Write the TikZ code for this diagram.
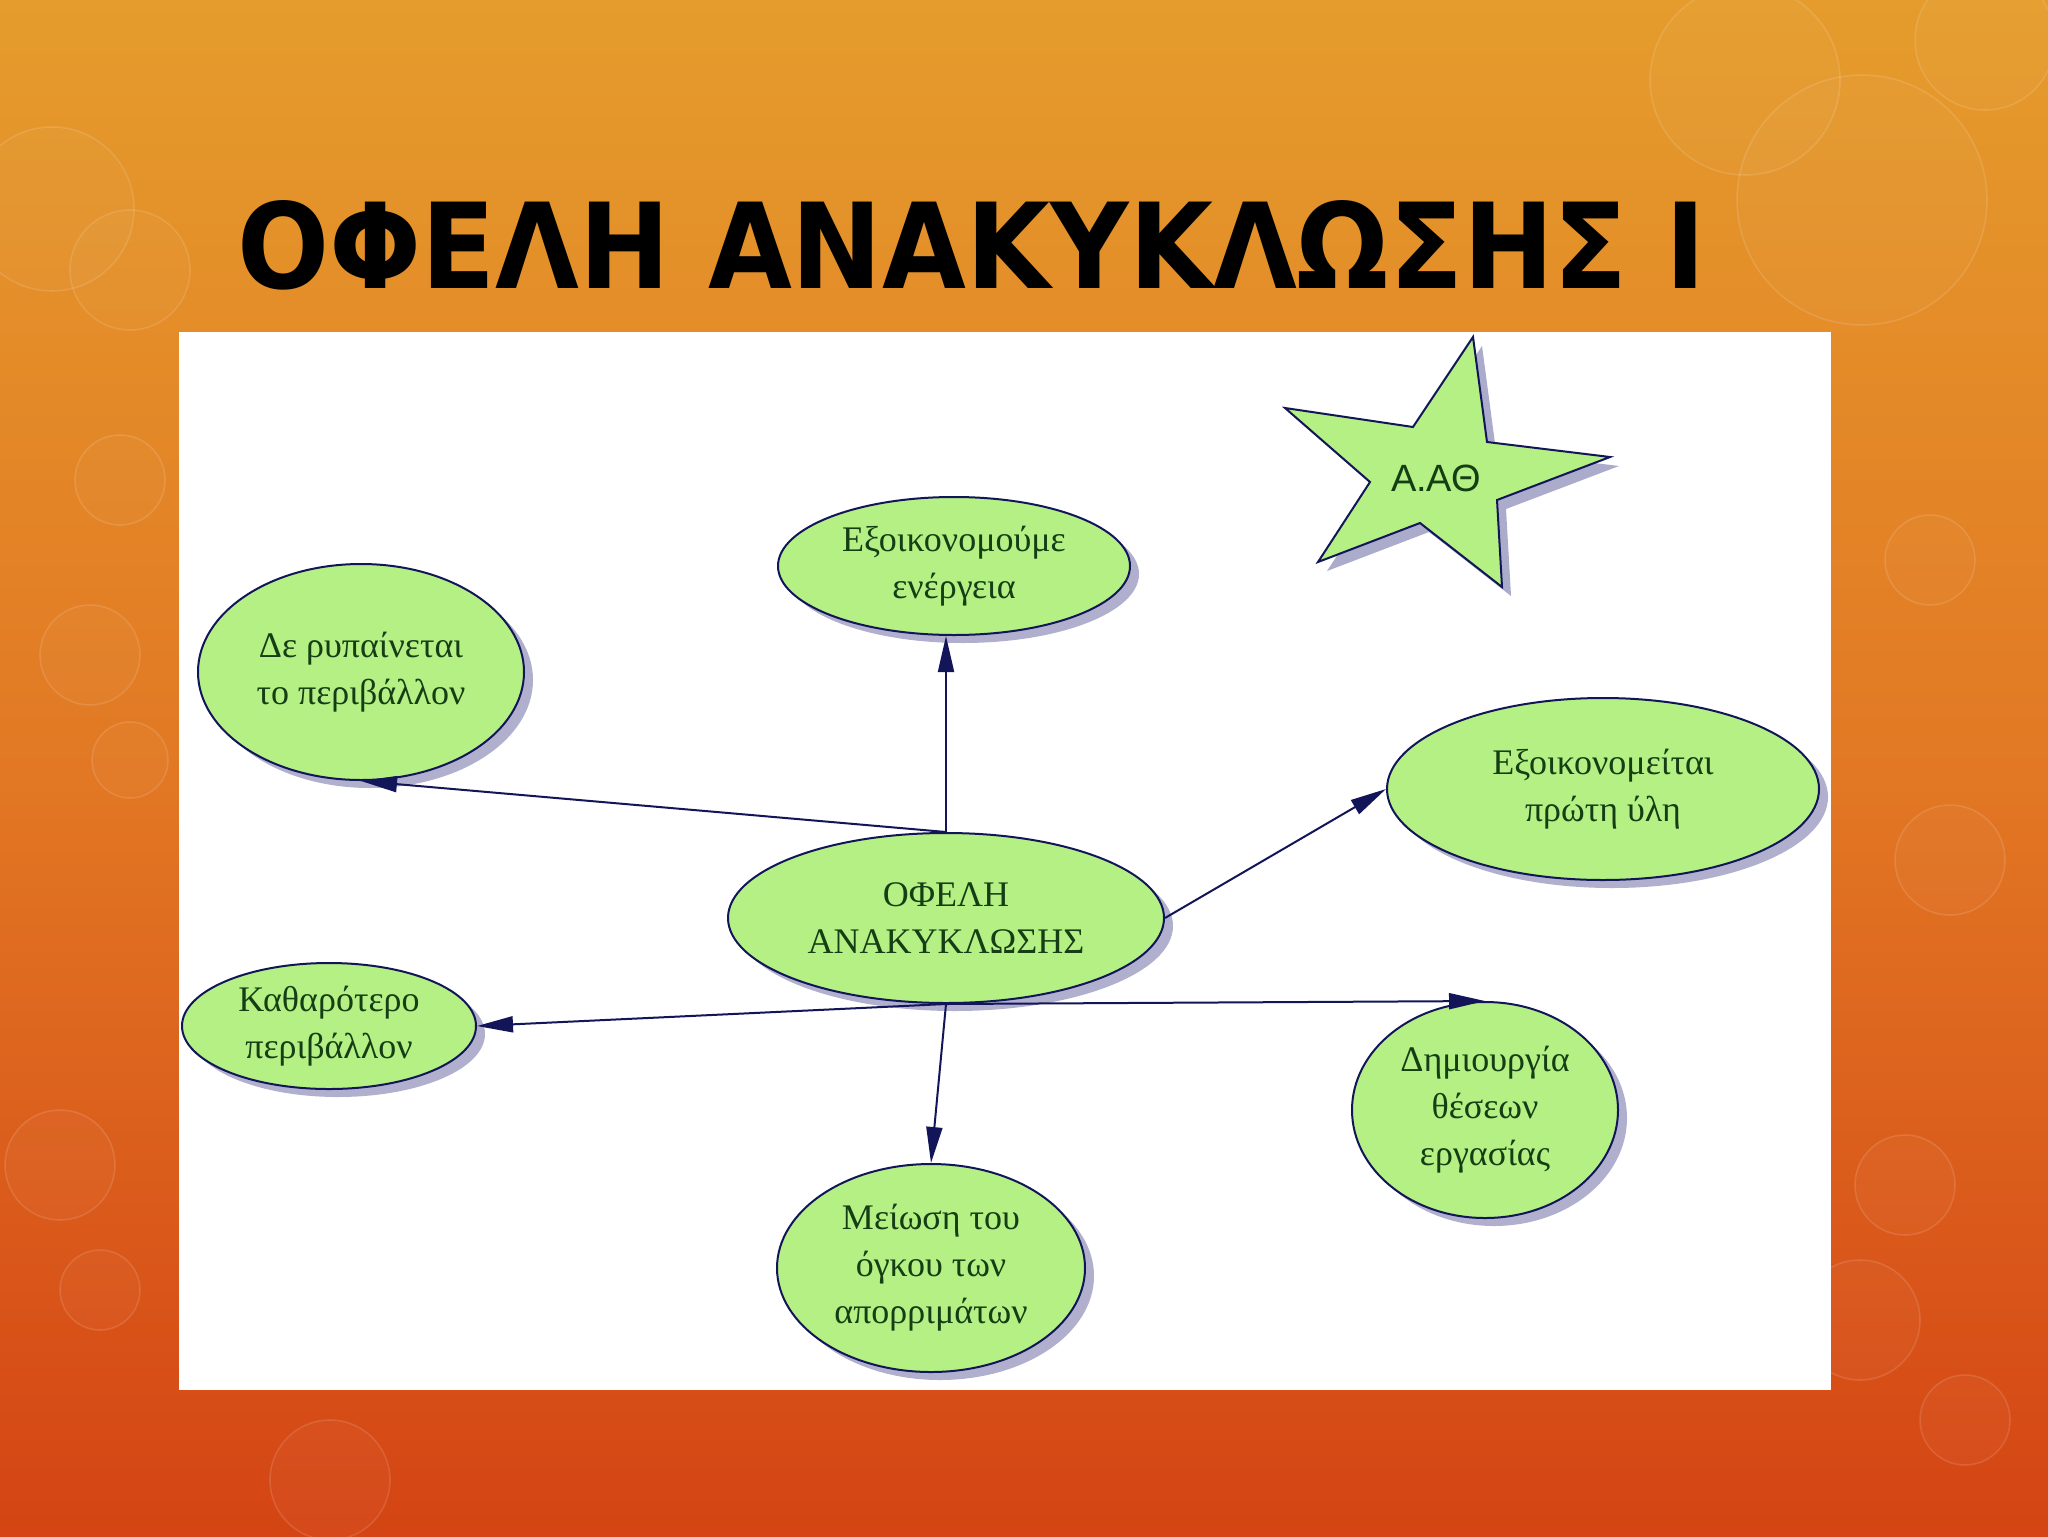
\documentclass[tikz,border=0pt]{standalone}
\usepackage{fontspec}
\usepackage{graphicx}
\setmainfont{Liberation Serif}
\newfontfamily\titlefont{DejaVu Sans}
\newfontfamily\starfont{Liberation Sans}
\usetikzlibrary{arrows.meta,shapes.geometric,shadows}
\definecolor{bubblegreen}{RGB}{180,240,132}
\definecolor{edgenavy}{RGB}{18,22,88}
\definecolor{textgreen}{RGB}{22,62,20}
\definecolor{shadowblue}{RGB}{150,150,190}
\definecolor{bgtop}{RGB}{229,156,44}
\definecolor{bgmid}{RGB}{226,120,36}
\definecolor{bgbot}{RGB}{212,68,20}
\begin{document}
\begin{tikzpicture}[x=0.5pt,y=-0.5pt,
  bubble/.style={ellipse, draw=edgenavy, line width=1pt, fill=bubblegreen, inner sep=0pt,
    drop shadow={shadow xshift=4.5pt, shadow yshift=-4pt, fill=shadowblue, opacity=0.75}},
  lbl/.style={align=center, text=textgreen, font=\fontsize{18}{23.5}\selectfont, inner sep=0pt},
  conn/.style={draw=edgenavy, line width=1pt, -{Triangle[length=18pt,width=8pt]}},
  bokeh/.style={draw=white, draw opacity=0.12, fill=white, fill opacity=0.03, line width=0.8pt}
]
% background
\shade[top color=bgtop, bottom color=bgbot, middle color=bgmid] (0,0) rectangle (2048,1536);
\useasboundingbox (0,0) rectangle (2048,1536);
\foreach \cx/\cy/\r in {52/209/82, 130/270/60, 120/480/45, 90/655/50, 130/760/38, 60/1165/55, 100/1290/40,
  1862/200/125, 1745/80/95, 1985/40/70, 1930/560/45, 1950/860/55, 1905/1185/50, 1860/1320/60, 1965/1420/45, 330/1480/60}
  \path[bokeh] (\cx,\cy) circle[radius=\r];
% title
\node[anchor=base west, inner sep=0pt] (title) at (237,288)
  {\resizebox{734pt}{44pt}{\titlefont\bfseries ΟΦΕΛΗ ΑΝΑΚΥΚΛΩΣΗΣ Ι}};
% white panel
\fill[white] (179,332) rectangle (1831,1390);
% star
\fill[shadowblue, opacity=0.8, shift={(9,9)}] (1473,337) -- (1487,442) -- (1610,457) -- (1497,500) -- (1502,587)
  -- (1420,523) -- (1318,562) -- (1370,482) -- (1285,408) -- (1413,427) -- cycle;
\filldraw[fill=bubblegreen, draw=edgenavy, line width=1pt, line join=miter] (1473,337) -- (1487,442) -- (1610,457) -- (1497,500) -- (1502,587)
  -- (1420,523) -- (1318,562) -- (1370,482) -- (1285,408) -- (1413,427) -- cycle;
\node[text=textgreen, font=\starfont\fontsize{19}{22}\selectfont, inner sep=0pt] (aath) at (1436,478) {Α.ΑΘ};
% bubbles
\node[bubble, minimum width=218pt, minimum height=85pt] (center) at (946,918) {};
\node[bubble, minimum width=176pt, minimum height=69pt] (energy) at (954,566) {};
\node[bubble, minimum width=163pt, minimum height=108pt] (pollute) at (361,672) {};
\node[bubble, minimum width=216pt, minimum height=91pt] (material) at (1603,789) {};
\node[bubble, minimum width=147pt, minimum height=63pt] (cleaner) at (329,1026) {};
\node[bubble, minimum width=133pt, minimum height=108pt] (jobs) at (1485,1110) {};
\node[bubble, minimum width=154pt, minimum height=104pt] (waste) at (931,1268) {};
% labels
\node[lbl] (tcenter) at (center) {ΟΦΕΛΗ\\ΑΝΑΚΥΚΛΩΣΗΣ};
\node[lbl] (tenergy) at (energy) {Εξοικονομούμε\\ενέργεια};
\node[lbl] (tpollute) at (pollute) {Δε ρυπαίνεται\\το περιβάλλον};
\node[lbl] (tmaterial) at (material) {Εξοικονομείται\\πρώτη ύλη};
\node[lbl] (tcleaner) at (cleaner) {Καθαρότερο\\περιβάλλον};
\node[lbl] (tjobs) at (jobs) {Δημιουργία\\θέσεων\\εργασίας};
\node[lbl] (twaste) at (waste) {Μείωση του\\όγκου των\\απορριμάτων};
% connectors
\draw[conn] (center.north) -- (center.north |- energy.south);
\draw[conn] (center.north) -- (pollute.south);
\draw[conn] (center.east) -- (material.west);
\draw[conn] (center.south) -- (cleaner.east);
\draw[conn] (center.south) -- (jobs.north);
\draw[conn] (center.south) -- (waste.north);
\end{tikzpicture}
\end{document}
